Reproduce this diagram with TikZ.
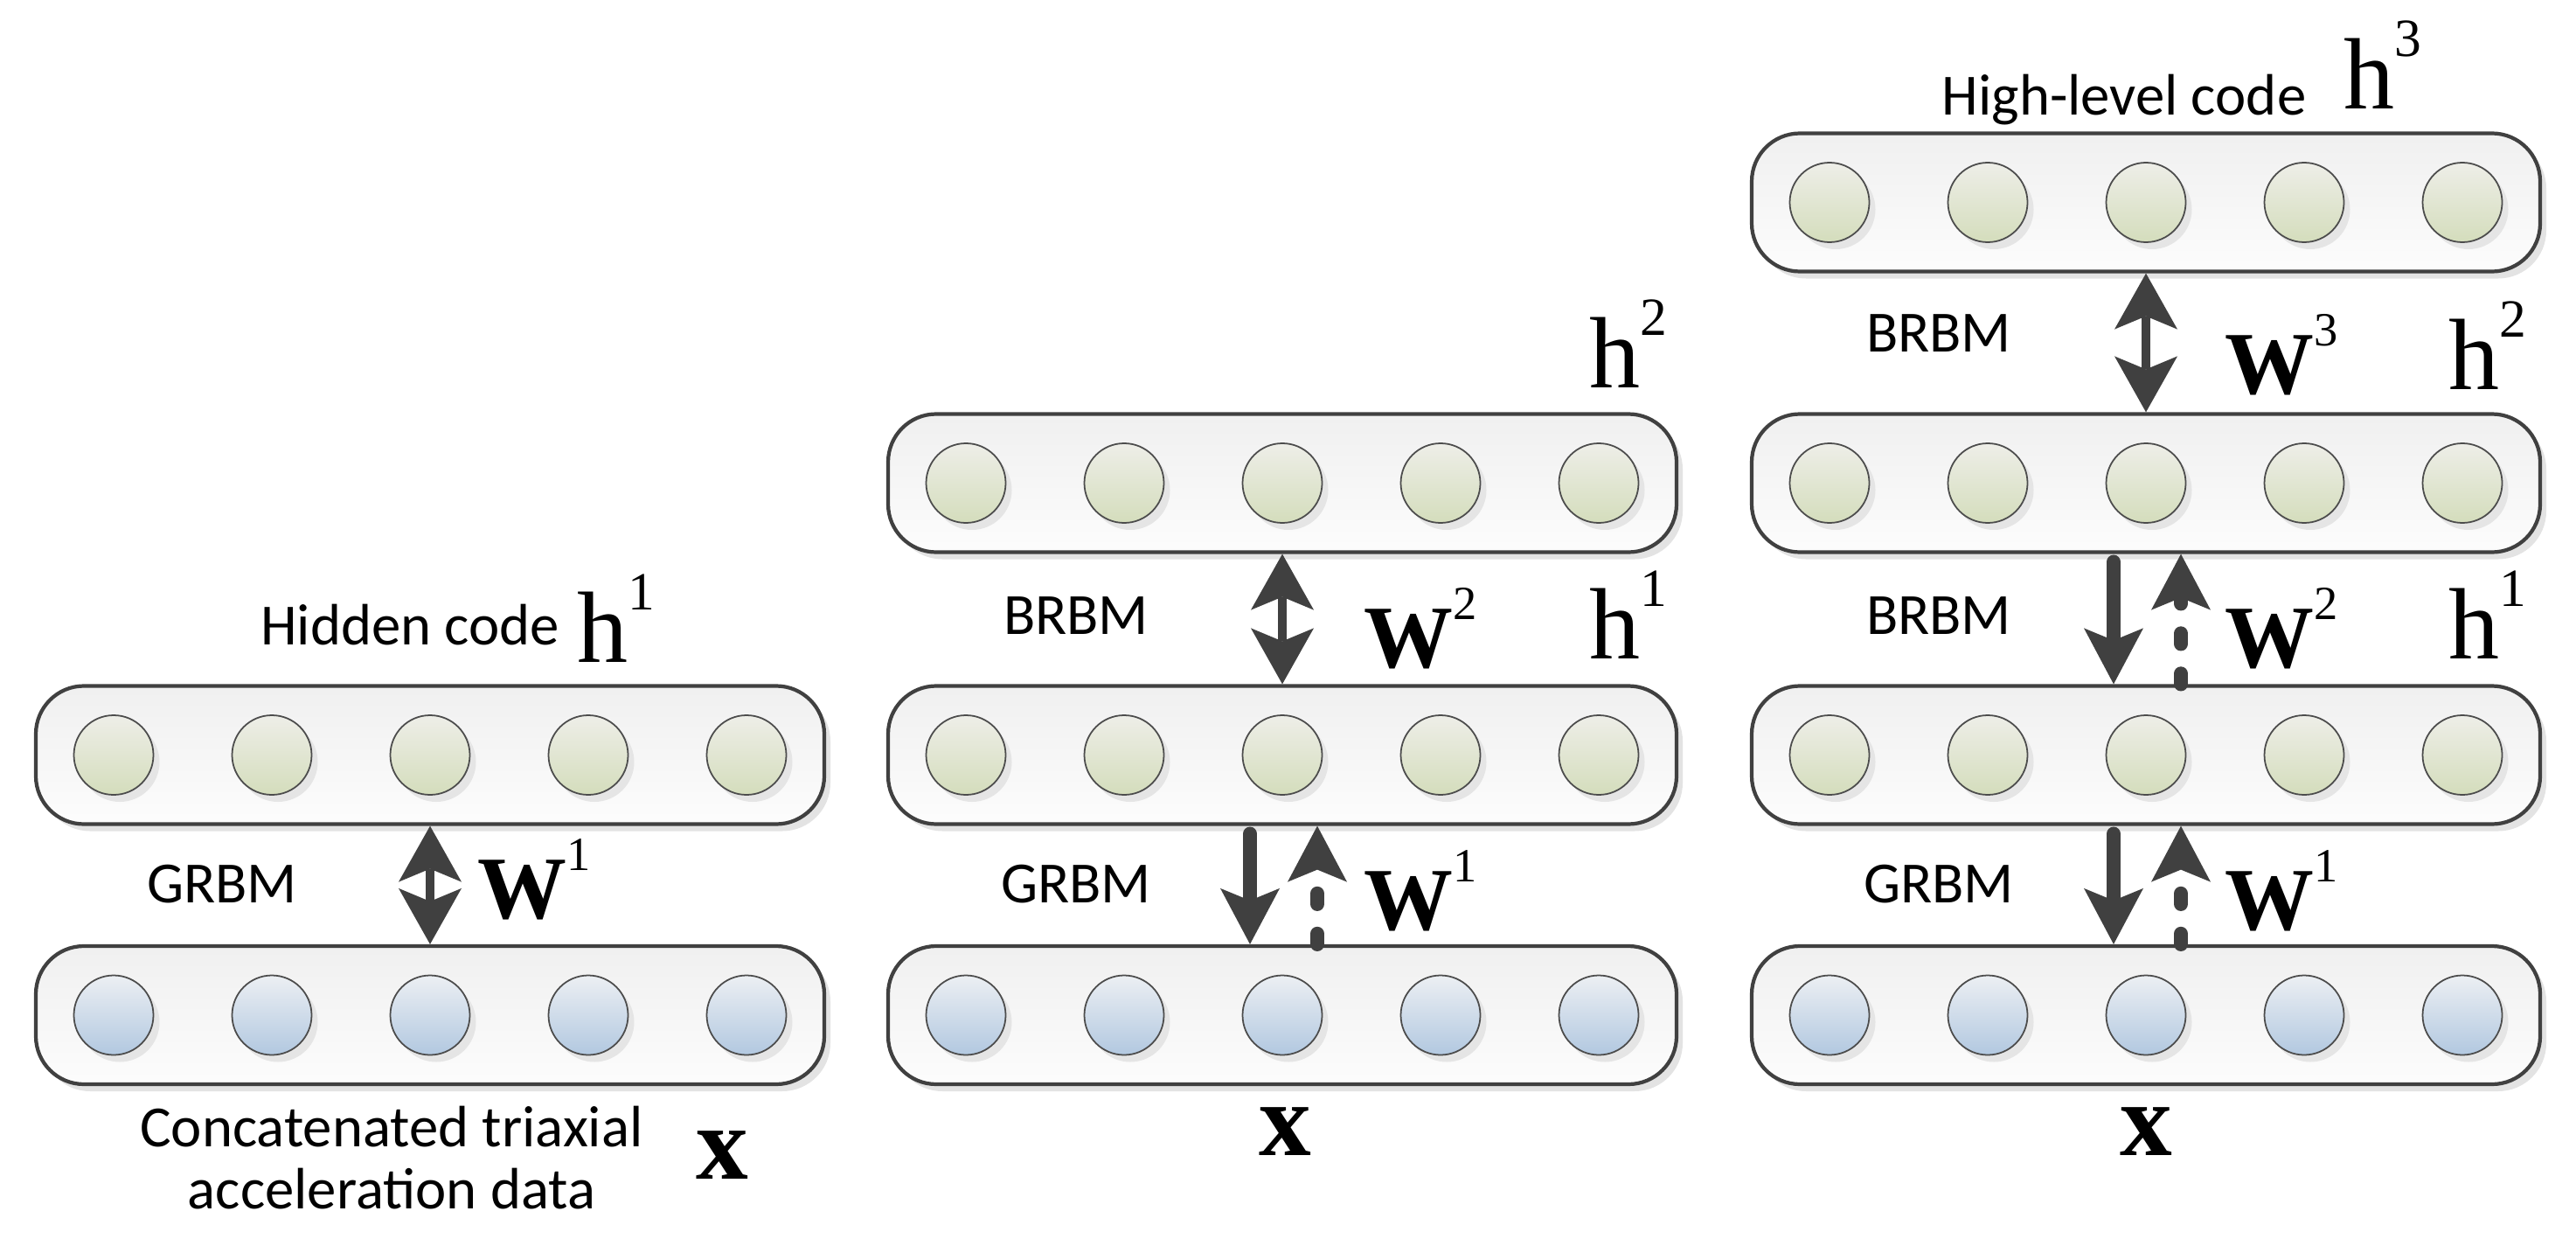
\documentclass[tikz,border=0pt]{standalone}
\usepackage{fontspec}
\setmainfont{Carlito}
\newfontfamily\romfont{Liberation Serif}
\usetikzlibrary{arrows.meta,shadows}

\definecolor{hidtop}{RGB}{238,238,232}
\definecolor{hidbot}{RGB}{212,221,188}
\definecolor{vistop}{RGB}{236,239,243}
\definecolor{visbot}{RGB}{178,200,224}
\definecolor{arrowgray}{RGB}{64,64,64}

\newcommand{\hlab}[1]{{\romfont\fontsize{33}{33}\selectfont h}{\romfont\fontsize{17.5}{17.5}\selectfont\raisebox{0.6cm}{#1}}}
\newcommand{\wlab}[1]{{\romfont\bfseries\fontsize{29}{29}\selectfont W}{\romfont\fontsize{15.5}{15.5}\selectfont\raisebox{0.55cm}{#1}}}
\newcommand{\xlab}{{\romfont\bfseries\fontsize{34}{34}\selectfont x}}

\begin{document}
\begin{tikzpicture}[
layer/.style={draw=arrowgray, line width=1.2pt, rounded corners=0.55cm,
    minimum width=9.02cm, minimum height=1.58cm, inner sep=0pt,
    top color=black!6, bottom color=black!1,
    drop shadow={shadow xshift=0.07cm, shadow yshift=-0.08cm, fill=black!11, opacity=1}},
hunit/.style={circle, draw=black!70, line width=0.5pt, minimum size=0.91cm, inner sep=0pt,
    top color=hidtop, bottom color=hidbot,
    drop shadow={shadow xshift=0.07cm, shadow yshift=-0.08cm, fill=black!10, opacity=1}},
vunit/.style={hunit, top color=vistop, bottom color=visbot},
lbl/.style={anchor=base, inner sep=0pt, font=\fontsize{19}{22}\selectfont},
sym/.style={anchor=base west, inner sep=0pt},
bothway/.style={draw=arrowgray, line width=3pt,
    {Stealth[length=0.64cm, width=0.72cm, inset=0.15cm, line width=0pt]}-{Stealth[length=0.64cm, width=0.72cm, inset=0.15cm, line width=0pt]}},
genarrow/.style={draw=arrowgray, line width=4.6pt, line cap=round,
    -{Stealth[length=0.64cm, width=0.68cm, inset=0.14cm, line width=0pt]}},
recarrow/.style={genarrow, dash pattern=on 0.12cm off 0.34cm}
]
\useasboundingbox (0,0) rectangle (29.47,14.16);

% left: one GRBM
\node[layer] (l1) at (4.92,5.525) {};
\node[layer] (l0) at (4.92,2.55) {};
\node[hunit] (l1a) at (1.30,5.525) {};
\node[hunit] (l1b) at (3.11,5.525) {};
\node[hunit] (l1c) at (4.92,5.525) {};
\node[hunit] (l1d) at (6.73,5.525) {};
\node[hunit] (l1e) at (8.54,5.525) {};
\node[vunit] (l0a) at (1.30,2.55) {};
\node[vunit] (l0b) at (3.11,2.55) {};
\node[vunit] (l0c) at (4.92,2.55) {};
\node[vunit] (l0d) at (6.73,2.55) {};
\node[vunit] (l0e) at (8.54,2.55) {};
\draw[bothway] (l1.south) -- (l0.north);
\node[lbl] (hidtxt) at (4.69,6.79) {Hidden code};
\node[sym] (lh1) at (6.60,6.59) {\hlab{1}};
\node[lbl] (lgrbm) at (2.54,3.84) {GRBM};
\node[sym] (lw1) at (5.46,3.66) {\wlab{1}};
\node[lbl] (dattxt) at (4.48,1.05) {Concatenated triaxial};
\node[lbl] (dattxt2) at (4.48,0.34) {acceleration data};
\node[anchor=base, inner sep=0pt] (lx) at (8.26,0.68) {\xlab};

% middle: GRBM + BRBM
\node[layer] (m2) at (14.67,8.635) {};
\node[layer] (m1) at (14.67,5.525) {};
\node[layer] (m0) at (14.67,2.55) {};
\node[hunit] (m2a) at (11.05,8.635) {};
\node[hunit] (m2b) at (12.86,8.635) {};
\node[hunit] (m2c) at (14.67,8.635) {};
\node[hunit] (m2d) at (16.48,8.635) {};
\node[hunit] (m2e) at (18.29,8.635) {};
\node[hunit] (m1a) at (11.05,5.525) {};
\node[hunit] (m1b) at (12.86,5.525) {};
\node[hunit] (m1c) at (14.67,5.525) {};
\node[hunit] (m1d) at (16.48,5.525) {};
\node[hunit] (m1e) at (18.29,5.525) {};
\node[vunit] (m0a) at (11.05,2.55) {};
\node[vunit] (m0b) at (12.86,2.55) {};
\node[vunit] (m0c) at (14.67,2.55) {};
\node[vunit] (m0d) at (16.48,2.55) {};
\node[vunit] (m0e) at (18.29,2.55) {};
\draw[bothway] (m2.south) -- (m1.north);
\draw[genarrow] ([xshift=-0.37cm,yshift=-0.09cm]m1.south) -- ([xshift=-0.37cm]m0.north);
\draw[recarrow] ([xshift=0.40cm]m0.north) -- ([xshift=0.40cm]m1.south);
\node[sym] (mh2) at (18.18,9.73) {\hlab{2}};
\node[sym] (mh1) at (18.18,6.63) {\hlab{1}};
\node[lbl] (mbrbm) at (12.31,6.91) {BRBM};
\node[lbl] (mgrbm) at (12.31,3.84) {GRBM};
\node[sym] (mw2) at (15.60,6.53) {\wlab{2}};
\node[sym] (mw1) at (15.60,3.53) {\wlab{1}};
\node[anchor=base, inner sep=0pt] (mx) at (14.70,0.95) {\xlab};

% right: GRBM + BRBM + BRBM
\node[layer] (r3) at (24.55,11.845) {};
\node[layer] (r2) at (24.55,8.635) {};
\node[layer] (r1) at (24.55,5.525) {};
\node[layer] (r0) at (24.55,2.55) {};
\node[hunit] (r3a) at (20.93,11.845) {};
\node[hunit] (r3b) at (22.74,11.845) {};
\node[hunit] (r3c) at (24.55,11.845) {};
\node[hunit] (r3d) at (26.36,11.845) {};
\node[hunit] (r3e) at (28.17,11.845) {};
\node[hunit] (r2a) at (20.93,8.635) {};
\node[hunit] (r2b) at (22.74,8.635) {};
\node[hunit] (r2c) at (24.55,8.635) {};
\node[hunit] (r2d) at (26.36,8.635) {};
\node[hunit] (r2e) at (28.17,8.635) {};
\node[hunit] (r1a) at (20.93,5.525) {};
\node[hunit] (r1b) at (22.74,5.525) {};
\node[hunit] (r1c) at (24.55,5.525) {};
\node[hunit] (r1d) at (26.36,5.525) {};
\node[hunit] (r1e) at (28.17,5.525) {};
\node[vunit] (r0a) at (20.93,2.55) {};
\node[vunit] (r0b) at (22.74,2.55) {};
\node[vunit] (r0c) at (24.55,2.55) {};
\node[vunit] (r0d) at (26.36,2.55) {};
\node[vunit] (r0e) at (28.17,2.55) {};
\draw[bothway] (r3.south) -- (r2.north);
\draw[genarrow] ([xshift=-0.37cm,yshift=-0.09cm]r2.south) -- ([xshift=-0.37cm]r1.north);
\draw[recarrow] ([xshift=0.40cm]r1.north) -- ([xshift=0.40cm]r2.south);
\draw[genarrow] ([xshift=-0.37cm,yshift=-0.09cm]r1.south) -- ([xshift=-0.37cm]r0.north);
\draw[recarrow] ([xshift=0.40cm]r0.north) -- ([xshift=0.40cm]r1.south);
\node[lbl] (hightxt) at (24.30,12.84) {High-level code};
\node[sym] (rh3) at (26.81,12.91) {\hlab{3}};
\node[sym] (rh2) at (28.01,9.71) {\hlab{2}};
\node[sym] (rh1) at (28.01,6.63) {\hlab{1}};
\node[lbl] (rbrbm2) at (22.18,10.14) {BRBM};
\node[lbl] (rbrbm1) at (22.18,6.91) {BRBM};
\node[lbl] (rgrbm) at (22.18,3.84) {GRBM};
\node[sym] (rw3) at (25.45,9.66) {\wlab{3}};
\node[sym] (rw2) at (25.45,6.53) {\wlab{2}};
\node[sym] (rw1) at (25.45,3.53) {\wlab{1}};
\node[anchor=base, inner sep=0pt] (rx) at (24.55,0.95) {\xlab};
\end{tikzpicture}
\end{document}
